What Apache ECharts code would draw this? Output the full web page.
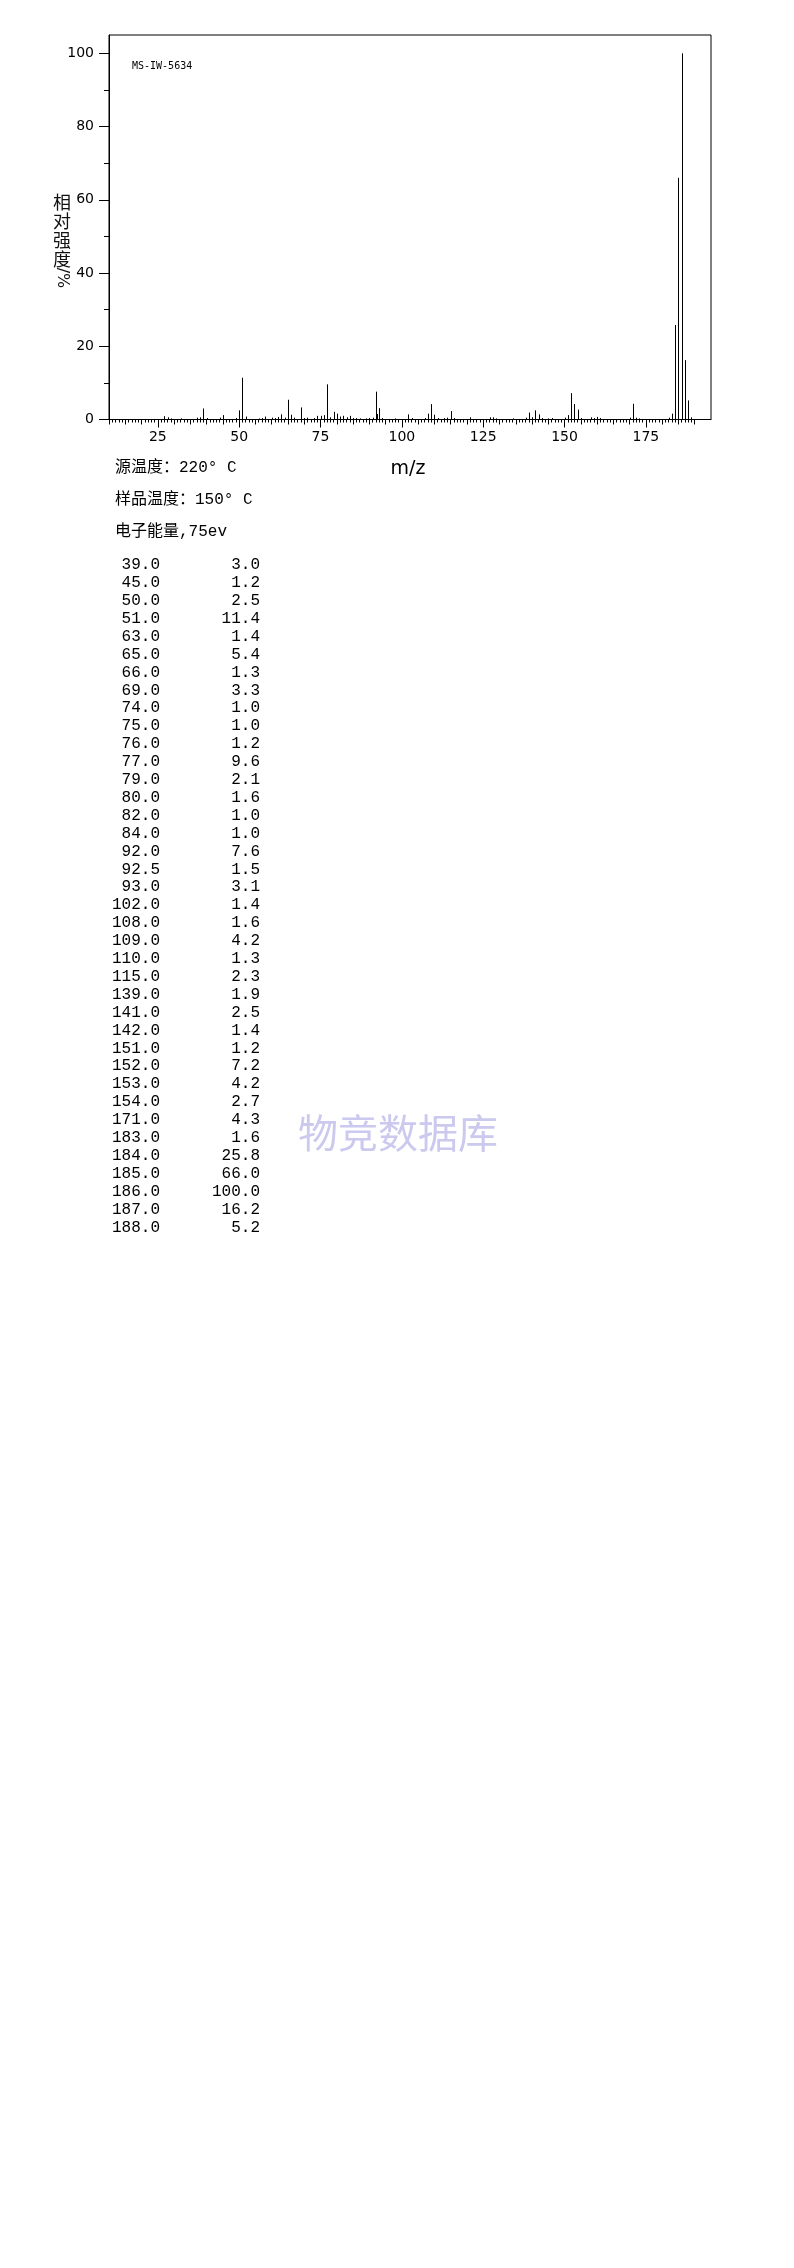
<!DOCTYPE html>
<html>
<head>
<meta charset="utf-8">
<script src="https://cdn.jsdelivr.net/npm/echarts@6/dist/echarts.min.js"></script>
<style>
html,body{margin:0;padding:0;background:#fff;}
#chart{width:794px;height:2268px;}
</style>
</head>
<body>
<div id="chart"></div>
<script>
// m/z values and relative intensities (%)
const mzValues = [27,28,29,32,37,38,39,40,44,45,49,50,51,52,56,57,58,60,61,62,63,64,65,66,67,69,70,71,73,74,75,76,77,78,79,80,81,82,83,84,85,86,87,89,90,91,92,92.5,93,94,98,102,103,107,108,109,110,111,113,114,115,116,121,127,128,129,134,138,139,140,141,142,143,145,146,150,151,152,153,154,155,158,159,160,161,170,171,172,173,182,183,184,185,186,187,188,189];
const intensities = [0.9,0.6,0.3,0.3,0.5,0.6,3.0,0.4,0.5,1.2,0.4,2.5,11.4,0.8,0.3,0.4,0.8,0.5,0.4,0.7,1.4,0.5,5.4,1.3,0.5,3.3,0.4,0.5,0.4,1.0,1.0,1.2,9.6,0.6,2.1,1.6,0.8,1.0,0.6,1.0,0.4,0.4,0.3,0.3,0.4,0.5,7.6,1.5,3.1,0.4,0.3,1.4,0.4,0.4,1.6,4.2,1.3,0.4,0.4,0.5,2.3,0.4,0.6,0.6,0.6,0.3,0.3,0.5,1.9,0.6,2.5,1.4,0.4,0.3,0.4,0.5,1.2,7.2,4.2,2.7,0.4,0.6,0.4,0.7,0.4,0.5,4.3,0.5,0.3,0.5,1.6,25.8,66.0,100.0,16.2,5.2,0.6];

// axis tick labels
const xLabelValues = [25,50,75,100,125,150,175];
const yLabelValues = [0,20,40,60,80,100];
const yMinorTicks = [10,30,50,70,90];

// peak table
const tableMz = [39.0,45.0,50.0,51.0,63.0,65.0,66.0,69.0,74.0,75.0,76.0,77.0,79.0,80.0,82.0,84.0,92.0,92.5,93.0,102.0,108.0,109.0,110.0,115.0,139.0,141.0,142.0,151.0,152.0,153.0,154.0,171.0,183.0,184.0,185.0,186.0,187.0,188.0];
const tableIntensity = [3.0,1.2,2.5,11.4,1.4,5.4,1.3,3.3,1.0,1.0,1.2,9.6,2.1,1.6,1.0,1.0,7.6,1.5,3.1,1.4,1.6,4.2,1.3,2.3,1.9,2.5,1.4,1.2,7.2,4.2,2.7,4.3,1.6,25.8,66.0,100.0,16.2,5.2];

const infoLines = ['源温度：220° C', '样品温度：150° C', '电子能量,75ev'];
const specId = 'MS-IW-5634';
const xAxisName = 'm/z';
const yAxisNameChars = ['相', '对', '强', '度'];
const yAxisNameUnit = '/%';
const watermark = '物竞数据库';

// tick positions (every 5 and every 1 from 10 to 190)
const ticks5 = [], ticks1 = [];
for (let v = 10; v <= 190; v++) { ticks1.push(v); if (v % 5 === 0) ticks5.push(v); }

const chart = echarts.init(document.getElementById('chart'), null, {renderer: 'canvas'});

const graphics = [];
graphics.push({type:'text', left:132, top:61, style:{text:specId, font:'10px "DejaVu Sans Mono"', fill:'#000'}});
yAxisNameChars.forEach((c, i) => {
  graphics.push({type:'text', x:62, y:202 + i * 19, style:{text:c, font:'18px "Noto Sans CJK SC"', fill:'#111', align:'center', verticalAlign:'middle'}});
});
graphics.push({type:'text', x:62, y:278, rotation:-Math.PI/2, style:{text:yAxisNameUnit, font:'16px "DejaVu Sans"', fill:'#111', align:'center', verticalAlign:'middle'}});
graphics.push({type:'text', x:408, y:469, style:{text:xAxisName, font:'19px "DejaVu Sans"', fill:'#000', align:'center', verticalAlign:'middle'}});
const infoY = [468, 500, 532];
infoLines.forEach((t, i) => {
  graphics.push({type:'text', x:115, y:infoY[i], style:{text:t, font:'16px "Liberation Mono", "Noto Sans CJK SC"', fill:'#000', align:'left', verticalAlign:'middle'}});
});
tableMz.forEach((m, i) => {
  const y = 565 + i * 17.9;
  graphics.push({type:'text', x:160, y:y, style:{text:m.toFixed(1), font:'16px "Liberation Mono"', fill:'#000', align:'right', verticalAlign:'middle'}});
  graphics.push({type:'text', x:260, y:y, style:{text:tableIntensity[i].toFixed(1), font:'16px "Liberation Mono"', fill:'#000', align:'right', verticalAlign:'middle'}});
});
graphics.push({type:'text', x:298, y:1133, style:{text:watermark, font:'40px "Noto Sans CJK SC"', fill:'#cbcaee', align:'left', verticalAlign:'middle'}});

const labelFont = {fontFamily:'DejaVu Sans', fontSize:14, color:'#000'};

const option = {
  animation: false,
  backgroundColor: '#fff',
  grid: {left:109, top:35, width:602, height:384.5, show:true, borderColor:'#000', borderWidth:1, backgroundColor:'transparent', containLabel:false},
  xAxis: [
    {type:'value', min:10, max:195, position:'bottom',
     axisLine:{show:true, onZero:false, lineStyle:{color:'#000', width:1}},
     axisTick:{show:true, customValues:xLabelValues, length:8, lineStyle:{color:'#000'}},
     axisLabel:Object.assign({show:true, customValues:xLabelValues, margin:11}, labelFont),
     splitLine:{show:false}},
    {type:'value', min:10, max:195, position:'bottom',
     axisLine:{show:false},
     axisTick:{show:true, customValues:ticks5, length:5, lineStyle:{color:'#000'}},
     axisLabel:{show:false}, splitLine:{show:false}},
    {type:'value', min:10, max:195, position:'bottom',
     axisLine:{show:false},
     axisTick:{show:true, customValues:ticks1, length:3, lineStyle:{color:'#000'}},
     axisLabel:{show:false}, splitLine:{show:false}}
  ],
  yAxis: [
    {type:'value', min:0, max:105, position:'left',
     axisLine:{show:true, onZero:false, lineStyle:{color:'#000', width:1}},
     axisTick:{show:true, customValues:yLabelValues, length:10, lineStyle:{color:'#000'}},
     axisLabel:Object.assign({show:true, customValues:yLabelValues, margin:15}, labelFont),
     splitLine:{show:false}},
    {type:'value', min:0, max:105, position:'left',
     axisLine:{show:false},
     axisTick:{show:true, customValues:yMinorTicks, length:5, lineStyle:{color:'#000'}},
     axisLabel:{show:false}, splitLine:{show:false}}
  ],
  series: [
    {type:'custom', xAxisIndex:0, yAxisIndex:0,
     data: mzValues.map((m, i) => [m, intensities[i]]),
     renderItem: function (params, api) {
       const p0 = api.coord([api.value(0), 0]);
       const p1 = api.coord([api.value(0), api.value(1)]);
       const x = Math.round(p0[0]) + 0.5;
       return {type:'line', shape:{x1:x, y1:p0[1], x2:x, y2:p1[1]}, style:{stroke:'#000', lineWidth:1}};
     }}
  ],
  graphic: graphics
};
chart.setOption(option);
</script>
</body>
</html>
